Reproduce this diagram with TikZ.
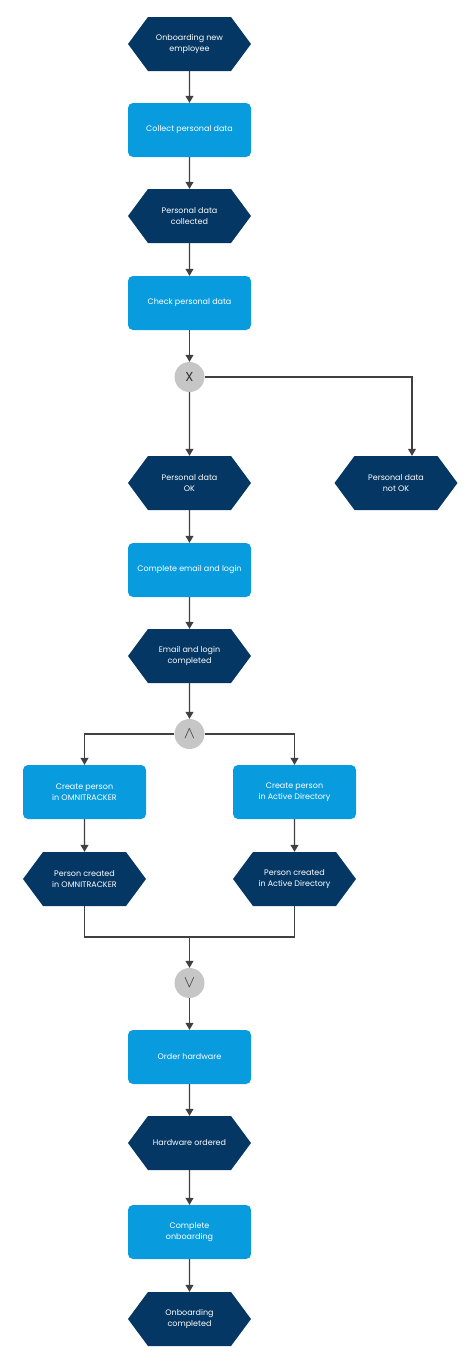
\documentclass[tikz,border=0pt]{standalone}
\usepackage{fontspec}
\setmainfont{Poppins}
\newfontfamily\symfont{DejaVu Sans}
\usetikzlibrary{shapes.symbols,arrows.meta}
\definecolor{evtcol}{RGB}{4,55,100}
\definecolor{funcol}{RGB}{8,155,222}
\definecolor{gatecol}{RGB}{198,198,198}
\definecolor{linecol}{RGB}{64,64,64}
\tikzset{
  evt/.style={signal, signal to=east and west, signal pointer angle=107,
    fill=evtcol, text=white, minimum width=123pt, minimum height=54pt,
    inner sep=0pt, align=center, font=\fontsize{8}{10.5}\selectfont},
  fun/.style={rectangle, rounded corners=5pt, fill=funcol, text=white,
    minimum width=123pt, minimum height=54pt, inner sep=0pt, align=center,
    font=\fontsize{8}{10.5}\selectfont},
  gate/.style={circle, fill=gatecol, minimum size=30pt, inner sep=0pt,
    text=black!80, font=\fontsize{13}{13}\selectfont},
  gsym/.style={font=\fontsize{13}{13}\selectfont},
  flow/.style={draw=linecol, line width=1.1pt, -{Triangle[width=8pt,length=7pt]}},
  plain/.style={draw=linecol, line width=1.1pt}
}
\begin{document}
\begin{tikzpicture}[x=1pt,y=-1pt]
\useasboundingbox (0,0) rectangle (474,1363);
\node[evt] (e1) at (189.5,44) {Onboarding new\\employee};
\node[fun] (f1) at (189.5,130) {Collect personal data};
\node[evt] (e2) at (189.5,216) {Personal data\\collected};
\node[fun] (f2) at (189.5,303) {Check personal data};
\node[gate] (x1) at (189.5,377) {X};
\node[evt] (e3) at (189.5,483) {Personal data\\OK};
\node[evt] (e4) at (396,483) {Personal data\\not OK};
\node[fun] (f3) at (189.5,570) {Complete email and login};
\node[evt] (e5) at (189.5,656) {Email and login\\completed};
\node[gate,gsym] (a1) at (189.5,734) {$\scalebox{1.4}{$\wedge$}$};
\node[fun] (f4) at (84.5,792) {Create person\\in OMNITRACKER};
\node[fun] (f5) at (294.5,792) {Create person\\in Active Directory};
\node[evt] (e6) at (84.5,879) {Person created\\in OMNITRACKER};
\node[evt] (e7) at (294.5,879) {Person created\\in Active Directory};
\coordinate (m) at (189.5,937);
\node[gate,gsym] (o1) at (189.5,983) {$\scalebox{1.4}{$\vee$}$};
\node[fun] (f6) at (189.5,1057) {Order hardware};
\node[evt] (e8) at (189.5,1143) {Hardware ordered};
\node[fun] (f7) at (189.5,1232) {Complete\\onboarding};
\node[evt] (e9) at (189.5,1319) {Onboarding\\completed};

\draw[flow] (e1) -- (f1);
\draw[flow] (f1) -- (e2);
\draw[flow] (e2) -- (f2);
\draw[flow] (f2) -- (x1);
\draw[flow] (x1) -- (e3);
\draw[flow] (x1.east) -| ([xshift=16pt]e4.north);
\draw[flow] (e3) -- (f3);
\draw[flow] (f3) -- (e5);
\draw[flow] (e5) -- (a1);
\draw[flow] (a1.west) -| (f4.north);
\draw[flow] (a1.east) -| (f5.north);
\draw[flow] (f4) -- (e6);
\draw[flow] (f5) -- (e7);
\draw[plain] (e6.south) |- (m);
\draw[plain] (e7.south) |- (m);
\draw[flow] (m) -- (o1);
\draw[flow] (o1) -- (f6);
\draw[flow] (f6) -- (e8);
\draw[flow] (e8) -- (f7);
\draw[flow] (f7) -- (e9);
\end{tikzpicture}
\end{document}
